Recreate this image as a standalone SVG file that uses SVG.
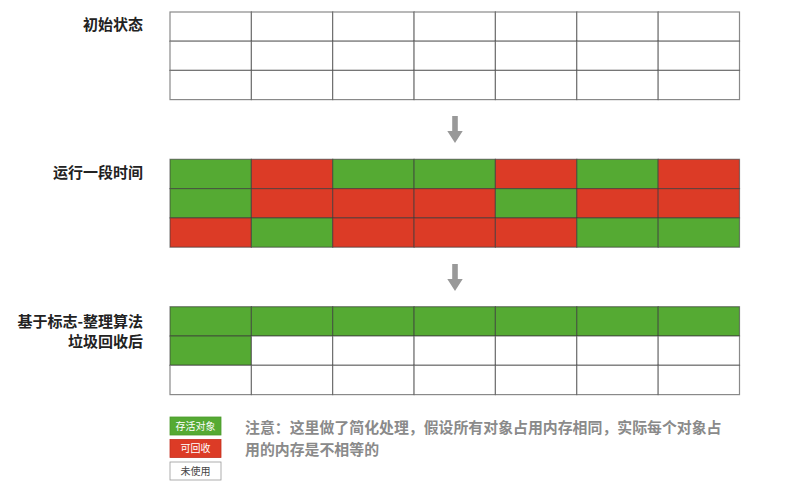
<svg xmlns="http://www.w3.org/2000/svg" width="800" height="483" viewBox="0 0 800 483">
<style>
.lbl{font-family:"Noto Sans CJK SC","Noto Sans",sans-serif;font-weight:bold;font-size:15px;fill:#222;text-anchor:end}
.c{stroke:#3a3a3a;stroke-opacity:0.6;stroke-width:1.2}
.w{fill:#fff}.g{fill:#55aa33}.r{fill:#dc3b26}
.arr{fill:#999}
.leg{font-family:"Noto Sans CJK SC","Noto Sans",sans-serif;font-size:10px;text-anchor:middle}
.note{font-family:"Noto Sans CJK SC","Noto Sans",sans-serif;font-weight:bold;font-size:14.9px;fill:#8a8a8a}
</style>
<defs>
<path id="arrow" d="M452.2,0 h5.6 v15 h4.9 l-7.7,12 l-7.7,-12 h4.9 z"/>
</defs>
<g id="label-initial"><text class="lbl" x="143" y="30">初始状态</text></g>
<g id="label-running"><text class="lbl" x="143" y="178">运行一段时间</text></g>
<g id="label-after"><text class="lbl" x="143" y="327">基于标志-整理算法</text><text class="lbl" x="143" y="347">垃圾回收后</text></g>

<g id="grid-initial">
<rect class="c w" x="170" y="12" width="81.4" height="29.2"/><rect class="c w" x="251.4" y="12" width="81.3" height="29.2"/><rect class="c w" x="332.7" y="12" width="81.4" height="29.2"/><rect class="c w" x="414.1" y="12" width="81.3" height="29.2"/><rect class="c w" x="495.4" y="12" width="81.4" height="29.2"/><rect class="c w" x="576.8" y="12" width="81.4" height="29.2"/><rect class="c w" x="658.2" y="12" width="81.3" height="29.2"/>
<rect class="c w" x="170" y="41.2" width="81.4" height="29.2"/><rect class="c w" x="251.4" y="41.2" width="81.3" height="29.2"/><rect class="c w" x="332.7" y="41.2" width="81.4" height="29.2"/><rect class="c w" x="414.1" y="41.2" width="81.3" height="29.2"/><rect class="c w" x="495.4" y="41.2" width="81.4" height="29.2"/><rect class="c w" x="576.8" y="41.2" width="81.4" height="29.2"/><rect class="c w" x="658.2" y="41.2" width="81.3" height="29.2"/>
<rect class="c w" x="170" y="70.4" width="81.4" height="29.2"/><rect class="c w" x="251.4" y="70.4" width="81.3" height="29.2"/><rect class="c w" x="332.7" y="70.4" width="81.4" height="29.2"/><rect class="c w" x="414.1" y="70.4" width="81.3" height="29.2"/><rect class="c w" x="495.4" y="70.4" width="81.4" height="29.2"/><rect class="c w" x="576.8" y="70.4" width="81.4" height="29.2"/><rect class="c w" x="658.2" y="70.4" width="81.3" height="29.2"/>
</g>

<g id="grid-running">
<rect class="c g" x="170" y="159.3" width="81.4" height="29.3"/><rect class="c r" x="251.4" y="159.3" width="81.3" height="29.3"/><rect class="c g" x="332.7" y="159.3" width="81.4" height="29.3"/><rect class="c g" x="414.1" y="159.3" width="81.3" height="29.3"/><rect class="c r" x="495.4" y="159.3" width="81.4" height="29.3"/><rect class="c g" x="576.8" y="159.3" width="81.4" height="29.3"/><rect class="c r" x="658.2" y="159.3" width="81.3" height="29.3"/>
<rect class="c g" x="170" y="188.6" width="81.4" height="29.3"/><rect class="c r" x="251.4" y="188.6" width="81.3" height="29.3"/><rect class="c r" x="332.7" y="188.6" width="81.4" height="29.3"/><rect class="c r" x="414.1" y="188.6" width="81.3" height="29.3"/><rect class="c g" x="495.4" y="188.6" width="81.4" height="29.3"/><rect class="c r" x="576.8" y="188.6" width="81.4" height="29.3"/><rect class="c r" x="658.2" y="188.6" width="81.3" height="29.3"/>
<rect class="c r" x="170" y="217.9" width="81.4" height="29.3"/><rect class="c g" x="251.4" y="217.9" width="81.3" height="29.3"/><rect class="c r" x="332.7" y="217.9" width="81.4" height="29.3"/><rect class="c r" x="414.1" y="217.9" width="81.3" height="29.3"/><rect class="c r" x="495.4" y="217.9" width="81.4" height="29.3"/><rect class="c g" x="576.8" y="217.9" width="81.4" height="29.3"/><rect class="c g" x="658.2" y="217.9" width="81.3" height="29.3"/>
</g>

<g id="grid-after">
<rect class="c g" x="170" y="306.7" width="81.4" height="29.3"/><rect class="c g" x="251.4" y="306.7" width="81.3" height="29.3"/><rect class="c g" x="332.7" y="306.7" width="81.4" height="29.3"/><rect class="c g" x="414.1" y="306.7" width="81.3" height="29.3"/><rect class="c g" x="495.4" y="306.7" width="81.4" height="29.3"/><rect class="c g" x="576.8" y="306.7" width="81.4" height="29.3"/><rect class="c g" x="658.2" y="306.7" width="81.3" height="29.3"/>
<rect class="c g" x="170" y="336" width="81.4" height="29.3"/><rect class="c w" x="251.4" y="336" width="81.3" height="29.3"/><rect class="c w" x="332.7" y="336" width="81.4" height="29.3"/><rect class="c w" x="414.1" y="336" width="81.3" height="29.3"/><rect class="c w" x="495.4" y="336" width="81.4" height="29.3"/><rect class="c w" x="576.8" y="336" width="81.4" height="29.3"/><rect class="c w" x="658.2" y="336" width="81.3" height="29.3"/>
<rect class="c w" x="170" y="365.3" width="81.4" height="29.3"/><rect class="c w" x="251.4" y="365.3" width="81.3" height="29.3"/><rect class="c w" x="332.7" y="365.3" width="81.4" height="29.3"/><rect class="c w" x="414.1" y="365.3" width="81.3" height="29.3"/><rect class="c w" x="495.4" y="365.3" width="81.4" height="29.3"/><rect class="c w" x="576.8" y="365.3" width="81.4" height="29.3"/><rect class="c w" x="658.2" y="365.3" width="81.3" height="29.3"/>
</g>

<g id="connectors">
<use href="#arrow" class="arr" x="0" y="116"/>
<use href="#arrow" class="arr" x="0" y="264"/>
</g>

<g id="legend-alive"><rect x="170" y="417" width="51" height="18" fill="#55aa33" stroke="#4a9a2c" stroke-width="0.8"/><text class="leg" x="195.5" y="429.5" fill="#fff">存活对象</text></g>
<g id="legend-reclaim"><rect x="170" y="439.5" width="51" height="18" fill="#dc3b26" stroke="#c33020" stroke-width="0.8"/><text class="leg" x="195.5" y="452" fill="#fff">可回收</text></g>
<g id="legend-unused"><rect x="170" y="462" width="51" height="18" fill="#fff" stroke="#999" stroke-width="0.8"/><text class="leg" x="195.5" y="474.5" fill="#444">未使用</text></g>

<g id="note">
<text class="note" x="245" y="433">注意：这里做了简化处理，假设所有对象占用内存相同，实际每个对象占</text>
<text class="note" x="245" y="455">用的内存是不相等的</text>
</g>
</svg>
